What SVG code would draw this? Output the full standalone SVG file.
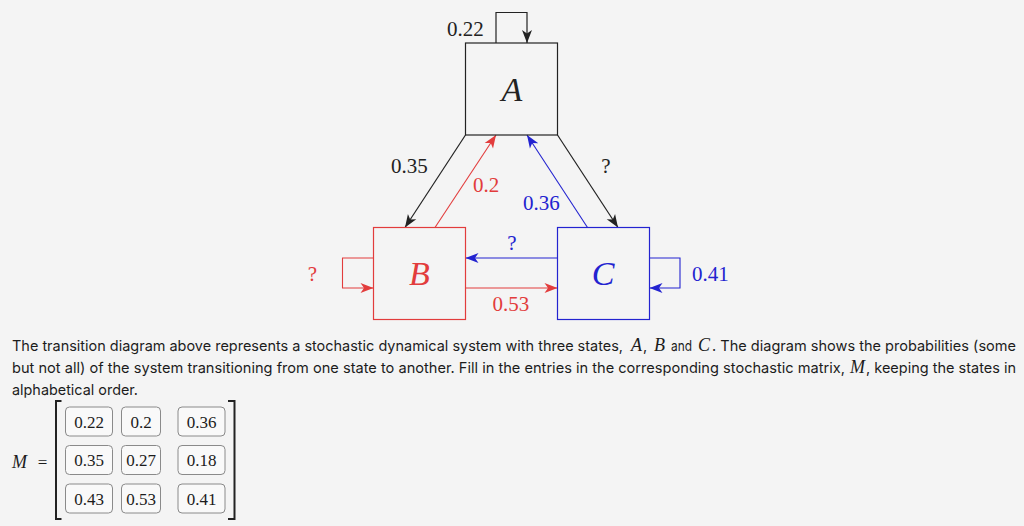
<svg xmlns="http://www.w3.org/2000/svg" width="1024" height="526" viewBox="0 0 1024 526">
<defs>
<style>
.bg{fill:#f4f4f4}
.lbl{font-family:"Liberation Serif","Times New Roman",serif;font-size:21px}
.node{font-family:"Liberation Serif","Times New Roman",serif;font-size:34px;font-style:italic;text-anchor:middle}
.k{fill:#222}
.r{fill:#e23c3c}
.b{fill:#2323d0}
.box{fill:none;stroke-width:1.2}
.ek{stroke:#222;stroke-width:1.2;fill:none}
.er{stroke:#e23c3c;stroke-width:1.1;fill:none}
.eb{stroke:#2323d0;stroke-width:1.1;fill:none}
.para{font-family:Inter,"Liberation Sans",sans-serif;font-size:14.6px;fill:#1c1c1c}
.mi{font-family:"Liberation Serif","Times New Roman",serif;font-style:italic;font-size:18px;fill:#1c1c1c}
.cell{fill:#f9f9f9;stroke:#8a8a8a;stroke-width:1}
.cv{font-family:"Liberation Serif","Times New Roman",serif;font-size:17px;fill:#1c1c1c;text-anchor:middle}
.brk{fill:none;stroke:#222;stroke-width:2}
</style>
<marker id="ak" markerUnits="userSpaceOnUse" markerWidth="16" markerHeight="12" viewBox="-14 -6 16 12" refX="0" refY="0" orient="auto"><path d="M0,0 L-13,-5 L-9.5,0 L-13,5 Z" fill="#222"/></marker>
<marker id="ar" markerUnits="userSpaceOnUse" markerWidth="16" markerHeight="12" viewBox="-14 -6 16 12" refX="0" refY="0" orient="auto"><path d="M0,0 L-13,-5 L-9.5,0 L-13,5 Z" fill="#e23c3c"/></marker>
<marker id="ab" markerUnits="userSpaceOnUse" markerWidth="16" markerHeight="12" viewBox="-14 -6 16 12" refX="0" refY="0" orient="auto"><path d="M0,0 L-13,-5 L-9.5,0 L-13,5 Z" fill="#2323d0"/></marker>
</defs>
<rect class="bg" x="0" y="0" width="1024" height="526"/>

<g id="connectors">
<path class="ek" d="M496,43 V12.5 H527 V43" marker-end="url(#ak)"/>
<line class="ek" x1="465.5" y1="135" x2="405" y2="227.5" marker-end="url(#ak)"/>
<line class="ek" x1="557.5" y1="135" x2="618" y2="227.5" marker-end="url(#ak)"/>
<line class="er" x1="435" y1="227.5" x2="496" y2="135" marker-end="url(#ar)"/>
<line class="eb" x1="587.5" y1="227.5" x2="527" y2="135" marker-end="url(#ab)"/>
<line class="er" x1="465.5" y1="288" x2="557.5" y2="288" marker-end="url(#ar)"/>
<line class="eb" x1="557.5" y1="258" x2="465.5" y2="258" marker-end="url(#ab)"/>
<path class="er" d="M373.5,258 H342.5 V288 H373.5" marker-end="url(#ar)"/>
<path class="eb" d="M649.5,258 H680 V288 H649.5" marker-end="url(#ab)"/>
<text class="lbl k" x="447" y="36">0.22</text>
<text class="lbl k" x="391" y="173">0.35</text>
<text class="lbl k" x="606" y="173" text-anchor="middle">?</text>
<text class="lbl r" x="473" y="192">0.2</text>
<text class="lbl b" x="523" y="210">0.36</text>
<text class="lbl b" x="512" y="250" text-anchor="middle">?</text>
<text class="lbl r" x="492.5" y="311">0.53</text>
<text class="lbl r" x="312.5" y="281" text-anchor="middle">?</text>
<text class="lbl b" x="692" y="281">0.41</text>
</g>

<g id="node-A">
<rect class="box" x="465.5" y="43" width="92" height="92" stroke="#222"/>
<text class="node k" x="512" y="101">A</text>
</g>
<g id="node-B">
<rect class="box" x="373.5" y="227.5" width="92" height="92" stroke="#e23c3c"/>
<text class="node r" x="419.5" y="285">B</text>
</g>
<g id="node-C">
<rect class="box" x="557.5" y="227.5" width="92" height="92" stroke="#2323d0"/>
<text class="node b" x="603" y="285">C</text>
</g>

<g id="paragraph">
<text class="para" x="12" y="351" textLength="611" lengthAdjust="spacingAndGlyphs">The transition diagram above represents a stochastic dynamical system with three states,</text>
<text class="mi" x="631" y="351">A</text>
<text class="para" x="643" y="351">,</text>
<text class="mi" x="654" y="351">B</text>
<text class="para" x="671" y="351" textLength="21" lengthAdjust="spacingAndGlyphs">and</text>
<text class="mi" x="698" y="351">C</text>
<text class="para" x="712" y="351" textLength="304" lengthAdjust="spacingAndGlyphs">. The diagram shows the probabilities (some</text>
<text class="para" x="12" y="373" textLength="833" lengthAdjust="spacingAndGlyphs">but not all) of the system transitioning from one state to another. Fill in the entries in the corresponding stochastic matrix,</text>
<text class="mi" x="850" y="373">M</text>
<text class="para" x="866" y="373" textLength="150" lengthAdjust="spacingAndGlyphs">, keeping the states in</text>
<text class="para" x="12" y="395" textLength="126" lengthAdjust="spacingAndGlyphs">alphabetical order.</text>
</g>

<g id="matrix">
<text class="mi" x="12" y="467.5" font-size="21">M</text>
<text class="cv" x="42.5" y="467.5" font-size="19">=</text>
<path class="brk" d="M61.5,401 H56 V519 H61.5"/>
<path class="brk" d="M228,401 H234.5 V519 H228"/>
<rect class="cell" x="65.5" y="407" width="47" height="29" rx="4"/>
<rect class="cell" x="121.5" y="407" width="39" height="29" rx="4"/>
<rect class="cell" x="178" y="407" width="47" height="29" rx="4"/>
<rect class="cell" x="65.5" y="445.5" width="47" height="29" rx="4"/>
<rect class="cell" x="121.5" y="445.5" width="39" height="29" rx="4"/>
<rect class="cell" x="178" y="445.5" width="47" height="29" rx="4"/>
<rect class="cell" x="65.5" y="484" width="47" height="29" rx="4"/>
<rect class="cell" x="121.5" y="484" width="39" height="29" rx="4"/>
<rect class="cell" x="178" y="484" width="47" height="29" rx="4"/>
<text class="cv" x="89" y="427.5">0.22</text>
<text class="cv" x="141" y="427.5">0.2</text>
<text class="cv" x="201.5" y="427.5">0.36</text>
<text class="cv" x="89" y="466">0.35</text>
<text class="cv" x="141" y="466">0.27</text>
<text class="cv" x="201.5" y="466">0.18</text>
<text class="cv" x="89" y="504.5">0.43</text>
<text class="cv" x="141" y="504.5">0.53</text>
<text class="cv" x="201.5" y="504.5">0.41</text>
</g>
</svg>
